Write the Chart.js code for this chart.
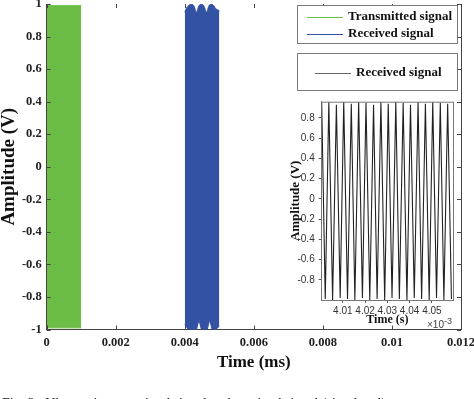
<!DOCTYPE html>
<html>
<head>
<meta charset="utf-8">
<script src="https://cdn.jsdelivr.net/npm/chart.js@4.4.0/dist/chart.umd.min.js"></script>
<style>
  body { margin: 0; background: #fff; }
  #page { position: relative; width: 474px; height: 399px; overflow: hidden; font-family: "Liberation Serif", serif; }
  #main { position: absolute; left: 0; top: 0; }
  #insetBox { position: absolute; left: 286px; top: 90px; width: 188px; height: 250px; }
  .legend { position: absolute; left: 297px; width: 159px; border: 1px solid #7a7a7a; background: #fff;
            font-weight: bold; font-size: 13px; color: #111; }
  .row { position: absolute; white-space: nowrap; }
  .swatch { display: inline-block; width: 36px; height: 0; border-top: 1.3px solid; vertical-align: middle; margin-right: 5px; }
  #exp { position: absolute; left: 427px; top: 316px; font-family: "Liberation Sans", sans-serif; font-size: 10px; color: #444; }
  #exp sup { font-size: 9px; }
  #caption { position: absolute; left: 2px; top: 396px; font-size: 14px; white-space: nowrap; color: #222; }
</style>
</head>
<body>
<div id="page">
  <canvas id="main" width="474" height="399"></canvas>
  <div class="legend" style="top:5px;height:37px;">
    <div class="row" style="left:9px;top:2px;"><span class="swatch" style="border-color:#6cbd45"></span>Transmitted signal</div>
    <div class="row" style="left:9px;top:19px;"><span class="swatch" style="border-color:#3452a4"></span>Received signal</div>
  </div>
  <div class="legend" style="top:53px;height:36px;">
    <div class="row" style="left:17px;top:10px;"><span class="swatch" style="border-color:#666"></span>Received signal</div>
  </div>
  <div id="insetBox"><canvas id="inset" width="188" height="250"></canvas></div>
  <div id="exp">&times;10<sup>-3</sup></div>
  <div id="caption">Fig. 2.&nbsp; Ultrasonic transmitted signal and received signal (simulated)</div>
</div>
<script>
// main plot: time (s, labelled ms) and envelope of the two bursts
const greenTime = [0, 0.001]
const greenTop = [0.99, 0.99]
const greenBottom = [-0.99, -0.99]

const blueTopTime = [0.004, 0.00405, 0.00412, 0.00419, 0.00426, 0.00434, 0.00441, 0.00448, 0.00455, 0.00463, 0.0047, 0.00477, 0.00484, 0.0049, 0.005]
const blueTop = [0.95, 0.975, 0.992, 1.0, 0.99, 0.95, 0.99, 1.0, 0.99, 0.95, 0.99, 1.0, 0.99, 0.97, 0.96]
const blueBottomTime = [0.004, 0.0041, 0.00434, 0.00441, 0.00448, 0.00465, 0.00472, 0.00479, 0.0049, 0.005]
const blueBottom = [-0.97, -1.0, -1.0, -0.94, -1.0, -1.0, -0.94, -1.0, -1.0, -0.98]

const xTicks = [0, 0.002, 0.004, 0.006, 0.008, 0.01, 0.012]
const xTickLabels = ['0', '0.002', '0.004', '0.006', '0.008', '0.01', '0.012']
const yTicks = [-1, -0.8, -0.6, -0.4, -0.2, 0, 0.2, 0.4, 0.6, 0.8, 1]
const yTickLabels = ['-1', '-0.8', '-0.6', '-0.4', '-0.2', '0', '0.2', '0.4', '0.6', '0.8', '1']

// inset: zoom on received signal (x in units of 1e-3 s)
const insetTime = [4.0005, 4.0021, 4.0037, 4.0054, 4.0071, 4.0088, 4.0104, 4.0121, 4.0138, 4.0154,
  4.0171, 4.0188, 4.0204, 4.0221, 4.0238, 4.0254, 4.0271, 4.0288, 4.0304, 4.0321,
  4.0338, 4.0354, 4.0371, 4.0388, 4.0404, 4.0421, 4.0438, 4.0454, 4.0471, 4.0488,
  4.0504, 4.0521, 4.0538, 4.0554, 4.0571, 4.0588]
const insetAmp = [0.95, -0.99, 0.96, -1.0, 0.93, -0.98, 0.96, -0.99, 0.94, -1.0,
  0.96, -0.98, 0.95, -1.0, 0.93, -0.99, 0.96, -1.0, 0.94, -0.98,
  0.96, -0.99, 0.95, -1.0, 0.93, -0.98, 0.96, -0.99, 0.94, -1.0,
  0.96, -0.98, 0.95, -1.0, 0.94, -0.99]
const insetXTicks = [4.01, 4.02, 4.03, 4.04, 4.05]
const insetXTickLabels = ['4.01', '4.02', '4.03', '4.04', '4.05']
const insetYTicks = [-0.8, -0.6, -0.4, -0.2, 0, 0.2, 0.4, 0.6, 0.8]
const insetYTickLabels = ['-0.8', '-0.6', '-0.4', '-0.2', '0', '0.2', '0.4', '0.6', '0.8']

const green = '#6cbd45'
const blue = '#3452a4'
const serifBold = (size) => ({ family: '"Liberation Serif", serif', weight: 'bold', size, lineHeight: 1 })

const pts = (xs, ys) => xs.map((x, i) => ({ x, y: ys[i] }))

// MATLAB style box with inward ticks
const boxTicks = {
  id: 'boxTicks',
  afterDraw(chart, args, opts) {
    const { ctx, chartArea: a, scales: { x, y } } = chart
    const len = opts.length
    ctx.save()
    ctx.strokeStyle = opts.color
    ctx.lineWidth = 1
    ctx.beginPath()
    if (opts.right) { ctx.moveTo(a.right + 0.5, a.top); ctx.lineTo(a.right + 0.5, a.bottom) }
    if (opts.top) { ctx.moveTo(a.left, a.top + 0.5); ctx.lineTo(a.right, a.top + 0.5) }
    if (len) {
      x.ticks.forEach(t => {
        const px = Math.round(x.getPixelForValue(t.value)) + 0.5
        ctx.moveTo(px, a.bottom); ctx.lineTo(px, a.bottom - len)
        ctx.moveTo(px, a.top); ctx.lineTo(px, a.top + len)
      })
      y.ticks.forEach(t => {
        const py = Math.round(y.getPixelForValue(t.value)) + 0.5
        ctx.moveTo(a.left, py); ctx.lineTo(a.left + len, py)
        ctx.moveTo(a.right, py); ctx.lineTo(a.right - len, py)
      })
    }
    ctx.stroke()
    ctx.restore()
  }
}

new Chart(document.getElementById('main'), {
  type: 'scatter',
  data: {
    datasets: [
      { data: pts(greenTime, greenTop), showLine: true, borderColor: green, backgroundColor: green, borderWidth: 1, pointRadius: 0, fill: '+1' },
      { data: pts(greenTime, greenBottom), showLine: true, borderColor: green, borderWidth: 1, pointRadius: 0, fill: false },
      { data: pts(blueTopTime, blueTop), showLine: true, borderColor: blue, backgroundColor: blue, borderWidth: 1, pointRadius: 0, tension: 0.3, fill: '+1' },
      { data: pts(blueBottomTime, blueBottom), showLine: true, borderColor: blue, borderWidth: 1, pointRadius: 0, fill: false }
    ]
  },
  options: {
    responsive: false,
    animation: false,
    layout: { padding: { left: 0, top: 4, right: 13, bottom: 0 } },
    plugins: {
      legend: { display: false },
      tooltip: { enabled: false },
      boxTicks: { color: '#444', length: 4, right: true, top: false }
    },
    scales: {
      x: {
        type: 'linear', min: 0, max: 0.012,
        afterBuildTicks: (s) => { s.ticks = xTicks.map(v => ({ value: v })) },
        afterFit: (s) => { s.height = 69.5; s.paddingLeft = 0; s.paddingRight = 0 },
        grid: { display: false, drawTicks: false },
        border: { display: true, color: '#444' },
        ticks: { padding: 7, color: '#222', font: serifBold(12.5), maxRotation: 0, autoSkip: false,
                 callback: (v, i) => xTickLabels[i] },
        title: { display: true, text: 'Time (ms)', color: '#111', font: serifBold(17), padding: { top: 0, bottom: 28 } }
      },
      y: {
        type: 'linear', min: -1, max: 1,
        afterBuildTicks: (s) => { s.ticks = yTicks.map(v => ({ value: v })) },
        afterFit: (s) => { s.width = 46.7; s.paddingTop = 0; s.paddingBottom = 0 },
        grid: { display: false, drawTicks: false },
        border: { display: true, color: '#444' },
        ticks: { padding: 5, color: '#222', font: serifBold(12.5), autoSkip: false,
                 callback: (v, i) => yTickLabels[i] },
        title: { display: true, text: 'Amplitude (V)', color: '#111', font: serifBold(19), padding: { top: 0, bottom: 0 } }
      }
    }
  },
  plugins: [boxTicks]
})

const sansSmall = { family: '"Liberation Sans", sans-serif', size: 10 }

new Chart(document.getElementById('inset'), {
  type: 'scatter',
  data: {
    datasets: [
      { data: pts(insetTime, insetAmp), showLine: true, borderColor: '#222', borderWidth: 1.1, pointRadius: 0, fill: false }
    ]
  },
  options: {
    responsive: false,
    animation: false,
    layout: { padding: { left: 0, top: 11.7, right: 21, bottom: 0 } },
    plugins: {
      legend: { display: false },
      tooltip: { enabled: false },
      boxTicks: { color: '#777', length: 0, right: true, top: true }
    },
    scales: {
      x: {
        type: 'linear', min: 4.0005, max: 4.0595,
        afterBuildTicks: (s) => { s.ticks = insetXTicks.map(v => ({ value: v })) },
        afterFit: (s) => { s.height = 40; s.paddingLeft = 0; s.paddingRight = 0 },
        grid: { drawOnChartArea: false, drawTicks: true, tickLength: 3, color: '#555' },
        border: { display: true, color: '#777' },
        ticks: { padding: 2, color: '#333', font: sansSmall, maxRotation: 0, autoSkip: false,
                 callback: (v, i) => insetXTickLabels[i] },
        title: { display: true, text: 'Time (s)', color: '#111', font: serifBold(12), padding: { top: 0, bottom: 14 } }
      },
      y: {
        type: 'linear', min: -1, max: 0.96,
        afterBuildTicks: (s) => { s.ticks = insetYTicks.map(v => ({ value: v })) },
        afterFit: (s) => { s.width = 35.7; s.paddingTop = 0; s.paddingBottom = 0 },
        grid: { drawOnChartArea: false, drawTicks: true, tickLength: 3, color: '#555' },
        border: { display: true, color: '#777' },
        ticks: { padding: 4, color: '#333', font: sansSmall, autoSkip: false,
                 callback: (v, i) => insetYTickLabels[i] },
        title: { display: true, text: 'Amplitude (V)', color: '#111', font: serifBold(13), padding: { top: 3.5, bottom: 0 } }
      }
    }
  },
  plugins: [boxTicks]
})
</script>
</body>
</html>
